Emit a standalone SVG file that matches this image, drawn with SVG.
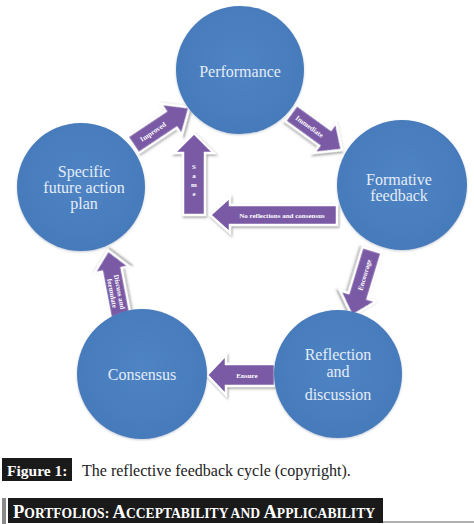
<svg xmlns="http://www.w3.org/2000/svg" width="474" height="524" viewBox="0 0 474 524">
  <defs>
    <filter id="sh" x="-20%" y="-20%" width="140%" height="140%">
      <feDropShadow dx="1" dy="1.5" stdDeviation="1.2" flood-color="#7a7a7a" flood-opacity="0.7"/>
    </filter>
    <filter id="csh" x="-10%" y="-10%" width="120%" height="120%">
      <feDropShadow dx="0" dy="1" stdDeviation="1" flood-color="#9aa8bb" flood-opacity="0.6"/>
    </filter>
    <radialGradient id="cg" cx="50%" cy="45%" r="55%">
      <stop offset="0" stop-color="#4f84c4"/>
      <stop offset="1" stop-color="#467abb"/>
    </radialGradient>
  </defs>
  <style>
    .node circle { fill: url(#cg); filter: url(#csh); }
    .node text { font-family: "Liberation Serif", "DejaVu Serif", serif; font-size: 16px; fill: #e4ecf7; text-anchor: middle; }
    .arr path { fill: #7a5aa5; stroke: #ffffff; stroke-width: 2.5; stroke-linejoin: miter; filter: url(#sh); }
    .arr text { font-family: "Liberation Serif", "DejaVu Serif", serif; font-weight: bold; font-size: 7px; fill: #ffffff; text-anchor: middle; }
    .cap { font-family: "Liberation Serif", "DejaVu Serif", serif; }
  </style>
  <rect width="474" height="524" fill="#ffffff"/>

  <g id="connectors">
    <g class="arr" id="c-improved" transform="translate(133,145) rotate(-33.7)">
      <path d="M0,-10 L46,-10 L46,-19 L68,0 L46,19 L46,10 L0,10 Z"/>
      <text x="24" y="2.5">Improved</text>
    </g>
    <g class="arr" id="c-immediate" transform="translate(291,113) rotate(36)">
      <path d="M0,-10 L42,-10 L42,-19 L63,0 L42,19 L42,10 L0,10 Z"/>
      <text x="23" y="2.5">Immediate</text>
    </g>
    <g class="arr" id="c-encourage" transform="translate(372,250) rotate(106.9)">
      <path d="M0,-10 L48,-10 L48,-19 L69,0 L48,19 L48,10 L0,10 Z"/>
      <text transform="translate(26,0) rotate(180)" x="0" y="2.5">Encourage</text>
    </g>
    <g class="arr" id="c-ensure">
      <path d="M275,364 L226,364 L226,355 L207,375 L226,395 L226,386 L275,386 Z"/>
      <text x="247" y="378">Ensure</text>
    </g>
    <g class="arr" id="c-discuss" transform="translate(121,318) rotate(-100.8)">
      <path d="M0,-10 L49,-10 L49,-18 L69,0 L49,18 L49,10 L0,10 Z"/>
      <text transform="translate(26,0) rotate(180)" font-size="6.5"><tspan x="0" y="-1">Discuss and</tspan><tspan x="0" y="6.5">formulate</tspan></text>
    </g>
    <g class="arr" id="c-noreflections">
      <path d="M337,205 L230,205 L230,197 L210,215 L230,233 L230,225 L337,225 Z"/>
      <text x="282" y="217.5">No reflections and consensus</text>
    </g>
    <g class="arr" id="c-same">
      <path d="M183,215 L183,153 L174,153 L194,133 L214,153 L205,153 L205,215 Z"/>
      <text x="194" y="168.5">S</text>
      <text x="194" y="177.5">a</text>
      <text x="194" y="186.5">m</text>
      <text x="194" y="195.5">e</text>
    </g>
  </g>

  <g class="node" id="n-performance">
    <circle cx="240" cy="70" r="64"/>
    <text x="240" y="77">Performance</text>
  </g>
  <g class="node" id="n-formative">
    <circle cx="402" cy="185" r="65"/>
    <text x="399" y="185">Formative</text>
    <text x="399" y="201">feedback</text>
  </g>
  <g class="node" id="n-reflection">
    <circle cx="338" cy="374" r="64"/>
    <text x="338" y="360">Reflection</text>
    <text x="338" y="377">and</text>
    <text x="338" y="400">discussion</text>
  </g>
  <g class="node" id="n-consensus">
    <circle cx="142" cy="374" r="65"/>
    <text x="142" y="380">Consensus</text>
  </g>
  <g class="node" id="n-specific">
    <circle cx="81" cy="187" r="64"/>
    <text x="84" y="177">Specific</text>
    <text x="84" y="193">future action</text>
    <text x="84" y="209">plan</text>
  </g>

  <g id="caption">
    <rect x="2" y="458" width="70" height="23" fill="#1a1a1a"/>
    <text class="cap" x="7" y="476" font-size="15.5" font-weight="bold" fill="#ffffff">Figure 1:</text>
    <text class="cap" x="82" y="476" font-size="16" fill="#222222">The reflective feedback cycle (copyright).</text>
  </g>
  <g id="heading">
    <rect x="2" y="498" width="4" height="26" fill="#8a8a8a"/>
    <rect x="8" y="498" width="375" height="25" fill="#1a1a1a"/>
    <rect x="383" y="521" width="91" height="2" fill="#b0b0b0"/>
    <text class="cap" x="13" y="518" font-weight="bold" fill="#ffffff"><tspan font-size="18.5">P</tspan><tspan font-size="13.6">ORTFOLIOS: </tspan><tspan font-size="18.5">A</tspan><tspan font-size="13.6">CCEPTABILITY AND </tspan><tspan font-size="18.5">A</tspan><tspan font-size="13.6">PPLICABILITY</tspan></text>
  </g>
</svg>
